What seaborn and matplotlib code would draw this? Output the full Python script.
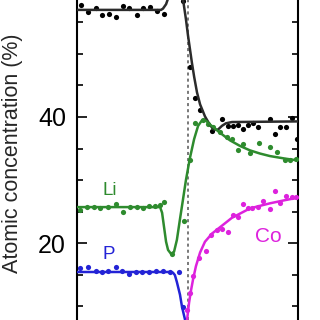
import pandas as pd
import matplotlib
matplotlib.use("Agg")
import matplotlib.pyplot as plt
from matplotlib.ticker import MultipleLocator
import seaborn as sns

# fitted profiles (depth in arbitrary units, concentration in %)
o_fit_x = [0, 38.0, 38.9, 40.3, 41.2, 42.1, 43.5, 45.0, 46.2, 47.1, 48.0, 49.3, 50.2,
           51.1, 52.0, 53.0, 54.3, 55.7, 57.9, 60.2, 62.0, 63.8, 65.6, 67.4, 70.1, 100]
o_fit_y = [57.0, 57.0, 57.2, 57.9, 58.8, 60.5, 63.0, 64.0, 63.2, 60.9, 58.6, 55.5, 53.0,
           50.8, 48.6, 46.4, 43.9, 42.0, 40.1, 38.7, 38.0, 38.0, 38.6, 39.0, 39.2, 39.3]

li_fit_x = [0, 37.6, 38.5, 39.4, 40.3, 41.2, 42.5, 43.9, 45.2, 46.6, 48.0, 49.3, 51.1,
            53.0, 54.8, 56.6, 58.4, 60.2, 64.7, 69.2, 73.8, 78.3, 82.8, 87.3, 94.1, 100]
li_fit_y = [25.7, 25.7, 24.8, 22.5, 20.2, 18.9, 18.3, 18.6, 20.5, 23.8, 27.0, 30.0, 33.5,
            36.5, 38.6, 39.5, 39.4, 38.8, 37.5, 36.3, 35.4, 34.7, 34.2, 33.8, 33.4, 33.1]

p_fit_x = [0, 42.1, 43.4, 44.3, 45.2, 46.6, 47.5, 48.9, 49.8]
p_fit_y = [15.4, 15.4, 15.3, 14.9, 13.8, 11.8, 9.9, 7.8, 5.5]

co_fit_x = [49.3, 49.8, 50.7, 51.6, 52.5, 53.8, 55.7, 57.9, 61.1, 64.7, 70.1, 78.3, 87.3, 94.1, 100]
co_fit_y = [5.0, 7.8, 10.5, 12.5, 14.2, 16.3, 18.5, 20.2, 21.5, 22.5, 24.0, 25.5, 26.3, 26.8, 27.2]

# measured points
o_pts_x = [1.8, 5.0, 8.6, 11.3, 14.5, 17.6, 20.8, 23.5, 27.1, 29.9, 33.0, 36.2, 39.4,
           48.0, 51.1, 53.4, 55.7, 61.1, 65.6, 68.3, 70.6, 72.9, 75.1, 77.4, 79.6, 81.9,
           87.3, 89.6, 91.9, 94.6, 97.3, 99.5]
o_pts_y = [57.8, 56.7, 57.3, 56.2, 56.3, 55.9, 57.6, 57.3, 56.2, 57.3, 57.5, 56.8, 56.3,
           58.4, 47.9, 43.0, 41.1, 37.7, 39.7, 38.6, 38.6, 38.7, 38.1, 38.7, 39.0, 38.4,
           39.7, 37.3, 38.4, 38.4, 39.8, 36.5]

li_pts_x = [1.4, 4.5, 7.7, 10.4, 14.0, 17.6, 20.8, 24.0, 27.1, 29.9, 32.6, 35.3, 37.6,
            39.4, 43.0, 48.4, 51.1, 53.4, 57.0, 59.3, 61.5, 64.7, 67.9, 70.1, 72.9, 75.1,
            78.3, 82.4, 87.3, 90.5, 94.1, 96.4, 99.1]
li_pts_y = [25.2, 25.7, 25.7, 25.6, 25.7, 26.2, 24.9, 25.7, 25.7, 25.6, 25.9, 25.9, 26.0,
            26.5, 18.3, 23.5, 33.2, 39.0, 39.5, 38.9, 38.4, 37.6, 36.8, 36.5, 34.8, 35.7,
            34.3, 35.9, 35.2, 34.4, 33.2, 33.2, 33.4]

p_pts_x = [1.4, 5.0, 8.6, 11.3, 14.0, 17.6, 20.4, 23.5, 26.7, 29.4, 32.6, 35.7, 38.9,
           42.1, 46.2, 48.0]
p_pts_y = [16.0, 16.2, 15.6, 15.4, 15.6, 16.2, 15.6, 15.1, 15.4, 15.4, 15.4, 15.6, 15.6,
           15.4, 15.4, 9.8]

co_pts_x = [49.8, 51.1, 52.5, 55.2, 58.4, 60.6, 63.3, 65.6, 68.3, 70.6, 72.9, 75.1, 77.4,
            79.2, 81.9, 84.2, 87.3, 89.6, 91.9, 94.6, 97.3, 99.1]
co_pts_y = [9.4, 12.1, 14.8, 17.6, 18.7, 21.3, 22.1, 22.2, 21.7, 24.4, 24.1, 26.2, 25.6,
            25.6, 25.7, 26.7, 25.4, 28.3, 26.3, 27.5, 27.3, 27.3]

interface_x = 50.2

series = [
    ("O", o_fit_x, o_fit_y, o_pts_x, o_pts_y, "#2b2b2b", "black"),
    ("Li", li_fit_x, li_fit_y, li_pts_x, li_pts_y, "#2e8b2e", "#2e8b2e"),
    ("P", p_fit_x, p_fit_y, p_pts_x, p_pts_y, "#2323d6", "#2323d6"),
    ("Co", co_fit_x, co_fit_y, co_pts_x, co_pts_y, "#dd22dd", "#dd22dd"),
]

sns.set_style("ticks")
plt.rcParams["font.family"] = ["Liberation Sans", "DejaVu Sans"]

fig = plt.figure(figsize=(3.2, 3.2), dpi=100)
ax = fig.add_axes([77 / 320, 0, 221 / 320, 1])

for name, fx, fy, px, py, lc, pc in series:
    fit = pd.DataFrame({"depth": fx, "conc": fy})
    pts = pd.DataFrame({"depth": px, "conc": py})
    sns.scatterplot(data=pts, x="depth", y="conc", color=pc, s=14, linewidth=0, ax=ax, zorder=3)
    sns.lineplot(data=fit, x="depth", y="conc", color=lc, lw=1.8, estimator=None, ax=ax, zorder=4)

ax.axvline(interface_x, color="#555555", lw=1.1, ls=(0, (2, 2)), zorder=2)

ax.text(15.0, 28.4, "Li", color="#2e8b2e", fontsize=13.5, ha="center", va="center")
ax.text(14.5, 18.1, "P", color="#2323d6", fontsize=13.5, ha="center", va="center")
ax.text(86.4, 21.1, "Co", color="#dd22dd", fontsize=15, ha="center", va="center")

ax.set_xlim(0, 100)
ax.set_ylim(7.78, 58.57)
ax.yaxis.set_major_locator(MultipleLocator(20))
ax.yaxis.set_minor_locator(MultipleLocator(5))
ax.set_xticks([])
ax.set_xlabel("")
ax.set_ylabel("Atomic concentration (%)", fontsize=15.5)
ax.yaxis.set_label_coords(-0.245, 0.52)

ax.spines["top"].set_visible(False)
ax.spines["bottom"].set_visible(False)
for side in ("left", "right"):
    ax.spines[side].set_visible(True)
    ax.spines[side].set_linewidth(1.5)
    ax.spines[side].set_color("black")

ax.tick_params(axis="y", which="both", direction="in", left=True, right=True,
               labelright=False, width=1.2, colors="black")
ax.tick_params(axis="y", which="major", length=7, labelsize=18, pad=8)
ax.tick_params(axis="y", which="minor", length=4)

fig.savefig("out.png", dpi=100)
